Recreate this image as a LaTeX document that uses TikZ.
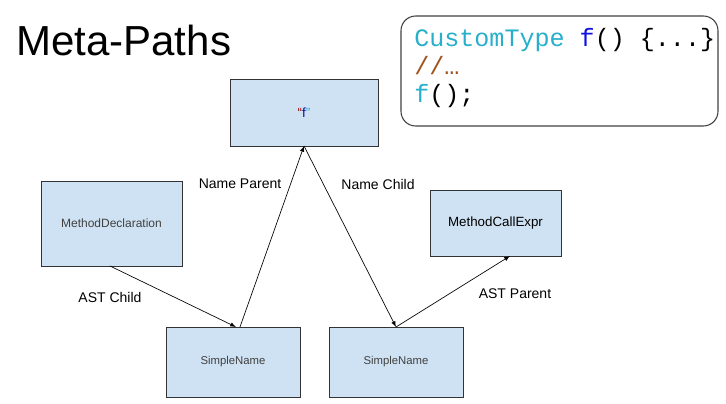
\documentclass[tikz,border=0pt]{standalone}
\usepackage{fontspec}
\setmainfont{Liberation Sans}
\newfontfamily\codefont{Liberation Mono}
\definecolor{boxfill}{HTML}{CFE2F3}
\definecolor{cyanc}{HTML}{27AFCB}
\definecolor{bluec}{HTML}{1010E0}
\definecolor{brownc}{HTML}{A0521C}
\begin{document}
\begin{tikzpicture}[x=0.75pt,y=-0.75pt,
  box/.style={draw=black!80,fill=boxfill,line width=0.6pt,inner sep=0pt},
  lbl/.style={font=\fontsize{10.5}{12}\selectfont,inner sep=1pt},
  arr/.style={-latex,line width=0.5pt}]
\useasboundingbox (0,0) rectangle (726,404);
\node[anchor=west,font=\fontsize{31.5}{36}\selectfont,inner sep=0] (title) at (16,40) {Meta-Paths};
\node[draw=black!75,rounded corners=11pt,line width=0.8pt,minimum width=237.75pt,minimum height=82.5pt] (code) at (559.5,71) {};
\node[anchor=north west,align=left,inner sep=0,font=\codefont\fontsize{18.8}{21}\selectfont] (codetext) at (414,28)
 {\textcolor{cyanc}{CustomType} \textcolor{bluec}{f}() \{...\}\\ \textcolor{brownc}{//…}\\ \textcolor{cyanc}{f}();};
\node[box,minimum width=111pt,minimum height=50.25pt,font=\fontsize{10}{11}\selectfont] (f) at (304,112.5) {\textcolor{red!60!black}{“}\textcolor{bluec!70!black}{f}\textcolor{cyanc}{”}};
\node[box,minimum width=105.75pt,minimum height=63.75pt,font=\fontsize{9}{10}\selectfont,text=black!75] (md) at (111.5,223.5) {MethodDeclaration};
\node[box,minimum width=98.25pt,minimum height=49.5pt,font=\fontsize{10}{11}\selectfont] (mce) at (495.5,223) {MethodCallExpr};
\node[box,minimum width=100.5pt,minimum height=52.5pt,font=\fontsize{8.5}{10}\selectfont,text=black!75] (sn1) at (233,362) {SimpleName};
\node[box,minimum width=100.5pt,minimum height=52.5pt,font=\fontsize{8.5}{10}\selectfont,text=black!75] (sn2) at (396,362) {SimpleName};
\coordinate (mdb) at (110,266);
\coordinate (sn1t) at (236,327);
\coordinate (sn1t2) at (240,327);
\coordinate (fb) at (304,146);
\coordinate (sn2t) at (396,327);
\coordinate (mceb) at (510,256);
\draw[arr] (mdb) -- (sn1t);
\draw[arr] (sn1t2) -- (fb);
\draw[arr] (fb) -- (sn2t);
\draw[arr] (sn2t) -- (mceb);
\node[lbl] (l1) at (240,184) {Name Parent};
\node[lbl] (l2) at (378,184) {Name Child};
\node[lbl] (l3) at (110,297) {AST Child};
\node[lbl] (l4) at (515,294) {AST Parent};
\end{tikzpicture}
\end{document}
